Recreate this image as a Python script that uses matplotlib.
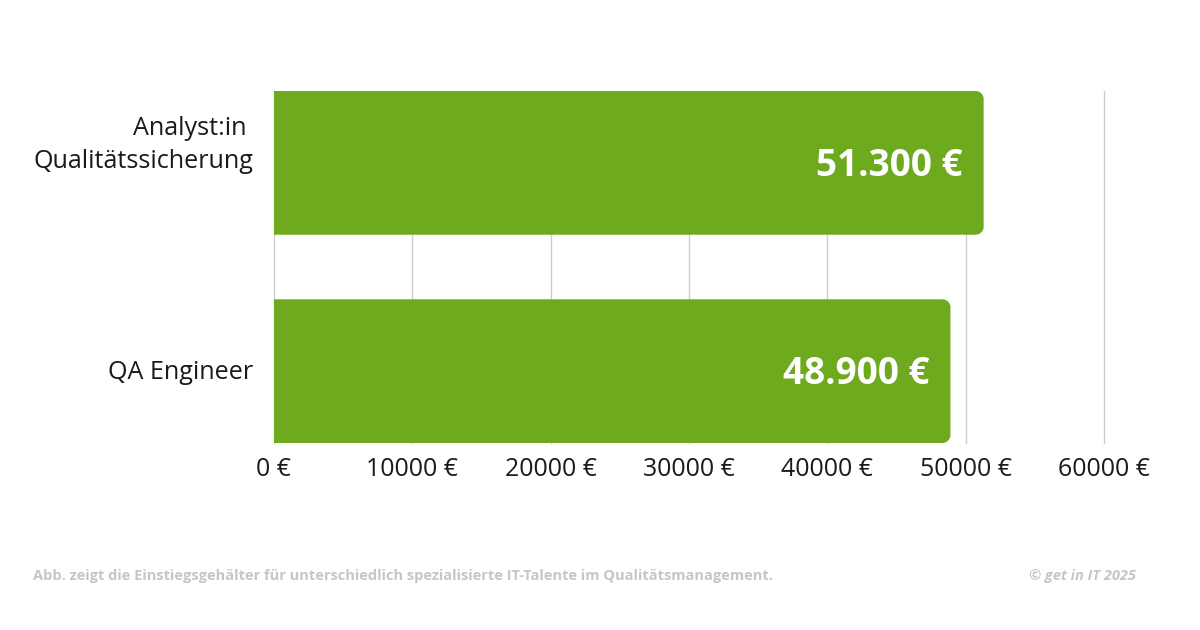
import matplotlib
matplotlib.use("Agg")
import matplotlib.pyplot as plt
from matplotlib.path import Path
from matplotlib.patches import PathPatch
import matplotlib.transforms as mtransforms

categories = ["Analyst:in \nQualitätssicherung", "QA Engineer"]
values = [51300, 48900]
value_labels = ["51.300 €", "48.900 €"]
xticks = [0, 10000, 20000, 30000, 40000, 50000, 60000]
xtick_labels = ["0 €", "10000 €", "20000 €", "30000 €", "40000 €", "50000 €", "60000 €"]
footer_left = "Abb. zeigt die Einstiegsgehälter für unterschiedlich spezialisierte IT-Talente im Qualitätsmanagement."
footer_right = "© get in IT 2025"

BAR_COLOR = "#6daa1d"
GRID_COLOR = "#cccccc"
FONT = "Open Sans"

W, H = 1200, 630
fig = plt.figure(figsize=(12, 6.3), dpi=100)
ax_l, ax_r, ax_t, ax_b = 274, 1104, 91, 443
ax = fig.add_axes([ax_l / W, 1 - ax_b / H, (ax_r - ax_l) / W, (ax_b - ax_t) / H])

h = 0.69
ypos = list(range(len(categories)))
bars = ax.barh(ypos, values, height=h, color=BAR_COLOR, zorder=3)
ax.set_xlim(0, 60000)
ax.set_ylim(1 + h / 2, -h / 2)

# rounded right corners
px_per_x = (ax_r - ax_l) / 60000
px_per_y = (ax_b - ax_t) / (1 + h)
r_px = 8
rx = r_px / px_per_x
ry = r_px / px_per_y
k = 0.5523
for b in bars:
    x0, y0 = b.get_x(), b.get_y()
    w, hh = b.get_width(), b.get_height()
    x1, y1 = x0 + w, y0 + hh
    verts = [
        (x0, y0),
        (x1 - rx, y0),
        (x1 - rx + k * rx, y0), (x1, y0 + ry - k * ry), (x1, y0 + ry),
        (x1, y1 - ry),
        (x1, y1 - ry + k * ry), (x1 - rx + k * rx, y1), (x1 - rx, y1),
        (x0, y1),
        (x0, y0),
    ]
    codes = [Path.MOVETO, Path.LINETO,
             Path.CURVE4, Path.CURVE4, Path.CURVE4,
             Path.LINETO,
             Path.CURVE4, Path.CURVE4, Path.CURVE4,
             Path.LINETO, Path.CLOSEPOLY]
    b.set_visible(False)
    ax.add_patch(PathPatch(Path(verts, codes), facecolor=BAR_COLOR, edgecolor="none", zorder=3))

# grid
ax.set_xticks(xticks)
ax.xaxis.grid(True, color=GRID_COLOR, linewidth=1, zorder=0)
for gl in ax.get_xgridlines():
    gl.set_clip_on(False)
ax.set_axisbelow(True)
for s in ax.spines.values():
    s.set_visible(False)
ax.tick_params(axis="x", length=0, pad=10)
ax.set_xticklabels(xtick_labels, fontsize=17.9, family=FONT, color="#1a1a1a")
ax.set_yticks([])

# category labels
for i, c in enumerate(categories):
    nl = c.count("\n")
    tr = mtransforms.offset_copy(ax.get_yaxis_transform(), fig=fig,
                                 x=-21, y=nl * 19 - 1, units="dots")
    ax.text(0, i, c, transform=tr, ha="right", va="center", fontsize=18.1,
            family=FONT, color="#1a1a1a", linespacing=1.42, multialignment="right")

# value labels
for b, lab in zip(bars, value_labels):
    ax.annotate(lab, xy=(b.get_width(), b.get_y() + b.get_height() / 2),
                xytext=(-21, -3), textcoords="offset pixels",
                ha="right", va="center", fontsize=26.6, family=FONT,
                fontweight="bold", color="white", zorder=5)

fig.text(33 / W, 1 - 576 / H, footer_left, ha="left", va="center", fontsize=10.5,
         family=FONT, fontweight="bold", color="#c3c7cb")
fig.text(1136 / W, 1 - 576 / H, footer_right, ha="right", va="center", fontsize=10.5,
         family=FONT, fontweight="bold", style="italic", color="#c3c7cb")

fig.savefig("out.png", dpi=100, facecolor="white")
